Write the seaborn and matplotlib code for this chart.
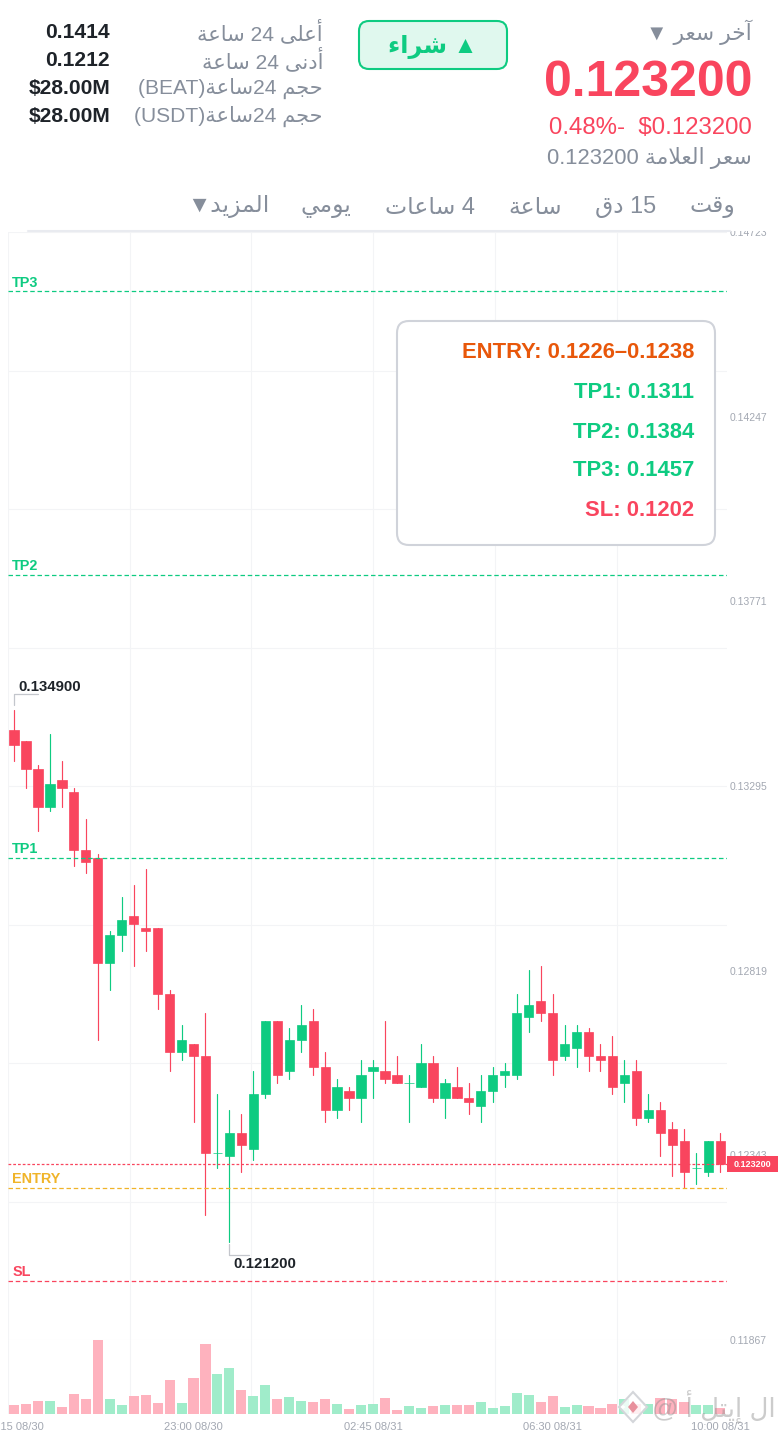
import matplotlib
matplotlib.use("Agg")
import matplotlib.pyplot as plt
import pandas as pd
import seaborn as sns
from matplotlib.patches import FancyBboxPatch, Polygon, Rectangle

# Candles (15 min, 19:15 08/30 -> 10:00 08/31)
opens = [.1344, .1341, .1334, .1324, .1331, .1328, .1313, .1311, .1284, .1291,
         .1296, .1293, .1293, .1276, .1261, .1263, .1260, .1235, .1234, .1240,
         .1236, .1250, .1269, .1256, .1264, .1269, .1257, .1246, .1251, .1249,
         .1256, .1256, .1255, .1253, .1252, .1258, .1249, .1252, .1249, .1247,
         .1251, .1255, .1255, .1270, .1274, .1271, .1260, .1262, .1266, .1260,
         .1260, .1253, .1256, .1244, .1246, .1241, .1238, .1231, .1230, .1238]
highs = [.1349, .1341, .1335, .1343, .1336, .1329, .1321, .1312, .1292, .1301,
         .1304, .1308, .1293, .1277, .1268, .1263, .1271, .1250, .1246, .1245,
         .1256, .1269, .1269, .1267, .1273, .1272, .1261, .1254, .1252, .1259,
         .1259, .1269, .1260, .1255, .1263, .1260, .1254, .1257, .1253, .1255,
         .1257, .1258, .1276, .1282, .1283, .1276, .1268, .1268, .1267, .1263,
         .1265, .1259, .1259, .1250, .1248, .1243, .1241, .1235, .1238, .1240]
lows = [.1336, .1329, .1318, .1323, .1324, .1309, .1307, .1264, .1277, .1287,
        .1283, .1287, .1272, .1256, .1259, .1243, .1219, .1231, .1212, .1230,
        .1233, .1249, .1253, .1254, .1261, .1255, .1243, .1244, .1246, .1243,
        .1249, .1253, .1253, .1243, .1252, .1248, .1244, .1249, .1245, .1243,
        .1248, .1252, .1254, .1266, .1269, .1255, .1259, .1257, .1256, .1256,
        .1250, .1248, .1242, .1243, .1234, .1229, .1226, .1227, .1229, .1230]
closes = [.1340, .1334, .1324, .1330, .1329, .1313, .1310, .1284, .1291, .1295,
          .1294, .1292, .1276, .1261, .1264, .1260, .1235, .1235, .1240, .1237,
          .1250, .1269, .1255, .1264, .1268, .1257, .1246, .1252, .1249, .1255,
          .1257, .1254, .1253, .1253, .1258, .1249, .1253, .1249, .1248, .1251,
          .1255, .1256, .1271, .1273, .1271, .1259, .1263, .1266, .1260, .1259,
          .1252, .1255, .1244, .1246, .1240, .1237, .1230, .1231, .1238, .1232]
volumes = [8.7, 10, 13.3, 13, 7, 20, 14.7, 74, 15.3, 9,
           17.7, 19, 11.3, 34, 11, 36, 70.3, 40.3, 45.7, 23.7,
           17.7, 29, 14.7, 17, 13, 12, 15, 10.3, 5.3, 9,
           10, 16, 4, 8.3, 6.3, 8.3, 8.7, 9, 9, 12,
           6, 8, 20.7, 18.7, 12, 18.3, 6.7, 9, 8, 6.3,
           10, 14.7, 10, 10, 15.7, 15, 12.3, 8.7, 9.3, 6]

time_ticks = [0, 15, 30, 45, 59]
time_labels = ["19:15 08/30", "23:00 08/30", "02:45 08/31", "06:30 08/31", "10:00 08/31"]
price_ticks = [0.14723, 0.14247, 0.13771, 0.13295, 0.12819, 0.12343, 0.11867]
grid_prices = [0.14723, 0.14366, 0.14009, 0.13652, 0.13295, 0.12938, 0.12581, 0.12224, 0.11867]
grid_candles = [-0.52, 9.66, 19.84, 30.0, 40.16, 50.36]

level_names = ["TP3", "TP2", "TP1", "ENTRY", "SL"]
level_prices = [0.1457, 0.1384, 0.1311, 0.1226, 0.1202]
last_price = 0.1232
high_index, high_price = 0, 0.1349
low_index, low_price = 18, 0.1212

GREEN = "#0ecb81"
RED = "#f9455e"
AMBER = "#f0b429"
ORANGE = "#e8570a"
GRAY = "#868e9b"
DARK = "#1e2329"
TICK = "#a3a8b2"
GRID = "#f3f4f6"
level_colors = [GREEN, GREEN, GREEN, AMBER, RED]

FONT = ["Liberation Sans", "DejaVu Sans"]

sns.set_theme(style="white")
plt.rcParams["font.family"] = FONT

# matplotlib has no Arabic shaping, so pick the presentation forms by hand
TWO = {"ء": 0xFE80, "آ": 0xFE81, "أ": 0xFE83, "إ": 0xFE87, "ا": 0xFE8D, "ة": 0xFE93,
       "د": 0xFEA9, "ر": 0xFEAD, "ز": 0xFEAF, "و": 0xFEED, "ى": 0xFEEF}
FOUR = {"ب": 0xFE8F, "ت": 0xFE95, "ج": 0xFE9D, "ح": 0xFEA1, "خ": 0xFEA5, "س": 0xFEB1,
        "ش": 0xFEB5, "ع": 0xFEC9, "ق": 0xFED5, "ل": 0xFEDD, "م": 0xFEE1, "ن": 0xFEE5,
        "ي": 0xFEF1}


def ar(word):
    out = []
    joined = False
    i = 0
    while i < len(word):
        c = word[i]
        if c == "ل" and word[i + 1:i + 2] == "ا":
            out.append(chr(0xFEFC if joined else 0xFEFB))
            joined = False
            i += 2
            continue
        if c in FOUR:
            nxt = i + 1 < len(word) and word[i + 1] in {**TWO, **FOUR} and word[i + 1] != "ء"
            if joined and nxt:
                out.append(chr(FOUR[c] + 3))
            elif nxt:
                out.append(chr(FOUR[c] + 2))
            elif joined:
                out.append(chr(FOUR[c] + 1))
            else:
                out.append(chr(FOUR[c]))
            joined = nxt
        elif c in TWO:
            if c == "ء":
                out.append(chr(TWO[c]))
            else:
                out.append(chr(TWO[c] + (1 if joined else 0)))
            joined = False
        else:
            out.append(c)
            joined = False
        i += 1
    return "".join(reversed(out))


W, H = 780, 1432
fig = plt.figure(figsize=(W / 100, H / 100), dpi=100, facecolor="white")


def box(x0, y0, x1, y1):
    return [x0 / W, 1 - y1 / H, (x1 - x0) / W, (y1 - y0) / H]


ax = fig.add_axes(box(8, 232, 727, 1340))
ax_vol = fig.add_axes(box(8, 1340, 727, 1414))
over = fig.add_axes([0, 0, 1, 1], zorder=10)
over.set_xlim(0, W)
over.set_ylim(H, 0)
over.axis("off")
over.patch.set_alpha(0)

df = pd.DataFrame({"i": range(len(opens)), "open": opens, "high": highs, "low": lows,
                   "close": closes, "volume": volumes})
df["up"] = df["close"] >= df["open"]
df["bottom"] = df[["open", "close"]].min(axis=1)
df["body"] = (df["close"] - df["open"]).abs()

for a in (ax, ax_vol):
    a.set_xlim(-0.5, 59.57)
    for g in grid_candles:
        a.axvline(g, color=GRID, lw=0.8, zorder=0)
    sns.despine(ax=a, left=True, right=True, top=True, bottom=True)

for p in grid_prices:
    ax.axhline(p, color=GRID, lw=0.8, zorder=0)

# wicks
wicks = df.melt(id_vars=["i", "up"], value_vars=["low", "high"], value_name="price")
for up, color in [(True, GREEN), (False, RED)]:
    sns.lineplot(data=wicks[wicks["up"] == up], x="i", y="price", units="i", estimator=None,
                 color=color, lw=0.85, ax=ax, zorder=3, legend=False)

# bodies
for up, color in [(True, GREEN), (False, RED)]:
    part = df[df["up"] == up]
    sns.barplot(x=part["i"].values, y=part["body"].values, bottom=part["bottom"].values,
                native_scale=True, orient="x", color=color, saturation=1, width=0.78,
                errorbar=None, edgecolor=color, linewidth=0.5, ax=ax, zorder=4)

# volume
sns.barplot(data=df, x="i", y="volume", hue="up", palette={True: "#a0ecca", False: "#feb2be"},
            native_scale=True, orient="x", dodge=False, saturation=1, width=0.84,
            errorbar=None, legend=False, linewidth=0, ax=ax_vol, zorder=2)

# levels
for name, p, c in zip(level_names, level_prices, level_colors):
    ax.axhline(p, color=c, lw=0.9, ls=(0, (3.6, 2.2)), zorder=5)
    ax.annotate(name, (0, p), xycoords=ax.get_yaxis_transform(), xytext=(3, 1),
                textcoords="offset points", color=c, fontsize=10.4, fontweight="bold",
                va="bottom", ha="left")
ax.axhline(last_price, color=RED, lw=0.9, ls=(0, (2.2, 1.6)), zorder=5)

# high / low markers
ax.plot([high_index, high_index, high_index + 2],
        [high_price + 0.00013, high_price + 0.00041, high_price + 0.00041],
        color="#c3c6cc", lw=0.9, zorder=5)
ax.annotate(f"{high_price:.6f}", (high_index, high_price + 0.00041), xytext=(3, 0),
            textcoords="offset points", fontsize=10.8, fontweight="bold", color=DARK, va="bottom")
ax.plot([low_index, low_index, low_index + 1.67],
        [low_price - 0.00005, low_price - 0.00034, low_price - 0.00034],
        color="#c3c6cc", lw=0.9, zorder=5)
ax.annotate(f"{low_price:.6f}", (low_index, low_price - 0.00034), xytext=(3, -1.5),
            textcoords="offset points", fontsize=10.8, fontweight="bold", color=DARK, va="top")

ax.set_ylim(min(price_ticks), max(price_ticks))
ax.yaxis.tick_right()
ax.set_yticks(price_ticks)
ax.set_yticklabels([f"{p:.5f}" for p in price_ticks])
ax.tick_params(axis="y", length=0, pad=2, labelsize=7.5, labelcolor=TICK)
ax.set_xticks([])
ax.set_xlabel("")
ax.set_ylabel("")

ax_vol.set_ylim(0, 74)
ax_vol.set_yticks([])
ax_vol.set_xticks(time_ticks)
ax_vol.set_xticklabels(time_labels)
ax_vol.tick_params(axis="x", length=0, pad=5.5, labelsize=8, labelcolor=TICK)
ax_vol.set_xlabel("")
ax_vol.set_ylabel("")

# header block covers the top of the first price label
over.add_patch(Rectangle((0, 0), W, 231, facecolor="white", edgecolor="none", zorder=1))
over.plot([28, 730], [231, 231], color="#e9ebf0", lw=1.5, zorder=2)


def txt(x, y, s, size, color, ha="right", weight="normal", **kw):
    return over.text(x, y + 2, s, fontsize=size * 0.72, color=color, ha=ha, va="center",
                     fontweight=weight, zorder=3, **kw)


saa = ar("ساعة")
txt(752, 30, "▼ " + ar("سعر") + " " + ar("آخر"), 21.8, GRAY)
txt(752, 81, "0.123200", 50, RED, weight="bold")
txt(752, 126, "0.48%-  $0.123200", 24, RED)
txt(752, 156, "0.123200 " + ar("العلامة") + " " + ar("سعر"), 22, GRAY)

over.add_patch(FancyBboxPatch((359, 21), 148, 48, boxstyle="round,pad=0,rounding_size=10",
                              facecolor="#e0f8ee", edgecolor=GREEN, lw=1.5, zorder=2))
txt(433, 45, ar("شراء") + " ▲", 24, GREEN, ha="center", weight="bold")

stats = [("0.1414", saa + " 24 " + ar("أعلى")),
         ("0.1212", saa + " 24 " + ar("أدنى")),
         ("$28.00M", "(BEAT)" + saa + "24 " + ar("حجم")),
         ("$28.00M", "(USDT)" + saa + "24 " + ar("حجم"))]
for k, (val, lab) in enumerate(stats):
    txt(110, 31 + 28 * k, val, 21, DARK, weight="bold")
    txt(323, 30 + 28 * k, lab, 21, GRAY)

tabs = [(712, ar("وقت")), (626, ar("دق") + " 15"), (535, saa), (430, ar("ساعات") + " 4"),
        (326, ar("يومي")), (228, "▼" + ar("المزيد"))]
for x, s in tabs:
    txt(x, 205, s, 23.5, GRAY, ha="center")

# info card
over.add_patch(FancyBboxPatch((397, 321), 318, 224, boxstyle="round,pad=0,rounding_size=12",
                              facecolor="white", edgecolor="#d0d3da", lw=1.5, zorder=2))
card = [(351, "ENTRY: 0.1226–0.1238", ORANGE), (391, "TP1: 0.1311", GREEN),
        (431, "TP2: 0.1384", GREEN), (469, "TP3: 0.1457", GREEN), (508, "SL: 0.1202", RED)]
for y, s, c in card:
    txt(694, y, s, 22, c, weight="bold")

# last price tag
over.add_patch(Rectangle((727, 1156), 51, 16, facecolor=RED, edgecolor="none", zorder=2))
txt(752.5, 1162.5, "0.123200", 9, "white", ha="center", weight="bold")

# watermark
over.add_patch(Polygon([(633, 1392), (647, 1407), (633, 1422), (619, 1407)], closed=True,
                       facecolor="#ffffffcc", edgecolor="#d4d6da", lw=1.5, zorder=4))
over.add_patch(Polygon([(633, 1401), (638, 1407), (633, 1413), (628, 1407)], closed=True,
                       facecolor="#e8909c", edgecolor="none", zorder=5))
over.add_patch(Polygon([(623, 1405), (625.5, 1407), (623, 1409), (620.5, 1407)], closed=True,
                       facecolor="white", edgecolor="none", zorder=5))
over.add_patch(Polygon([(643, 1405), (645.5, 1407), (643, 1409), (640.5, 1407)], closed=True,
                       facecolor="white", edgecolor="none", zorder=5))
txt(776, 1405, "@ " + ar("ال إيتل أ"), 26, "#8f8f8f", alpha=0.45)

fig.savefig("out.png", dpi=100)
